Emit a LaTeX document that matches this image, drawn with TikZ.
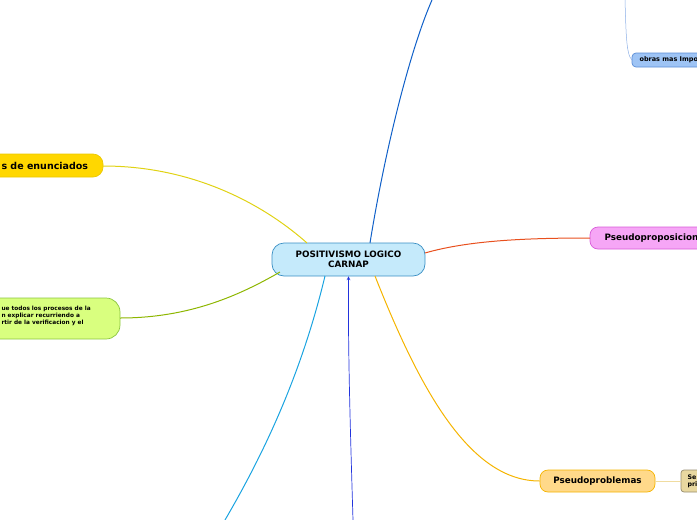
\documentclass[tikz,border=0pt]{standalone}
\usepackage{fontspec}
\setmainfont{DejaVu Sans}
\begin{document}
\begin{tikzpicture}[x=1pt,y=-1pt,
  box/.style={draw,rounded corners=8pt,line width=0.7pt,font=\bfseries,inner sep=0pt},
  conn/.style={line width=1pt}]
\useasboundingbox (0,0) rectangle (697,520);
\clip (0,0) rectangle (697,520);
% center
\node[box,fill={rgb,255:red,197;green,234;blue,251},draw={rgb,255:red,58;green,143;blue,196},minimum width=153pt,minimum height=33pt,rounded corners=12pt,align=center,font=\bfseries\fontsize{8.8}{10}\selectfont] (c) at (348.5,259.5) {POSITIVISMO LOGICO\\CARNAP};
% yellow
\node[box,fill={rgb,255:red,255;green,215;blue,0},draw={rgb,255:red,235;green,200;blue,0},minimum width=133pt,minimum height=23pt,rounded corners=10pt] (y) at (36.5,165.5) {};
\node[anchor=west,font=\bfseries\fontsize{9.5}{10}\selectfont] at (-2,165.5) {s de enunciados};
\draw[conn,draw={rgb,255:red,224;green,210;blue,20}] (103,166) .. controls (200,166) and (270,210) .. (307,243);
% green
\node[box,fill={rgb,255:red,217;green,255;blue,127},draw={rgb,255:red,140;green,198;blue,63},minimum width=160pt,minimum height=41pt,rounded corners=14pt] (g) at (40,318.5) {};
\node[anchor=west,align=left,font=\bfseries\fontsize{5.8}{6.8}\selectfont] at (-2,316) {ue todos los procesos de la\\n explicar recurriendo a\\rtir de la verificacion y el};
\draw[conn,draw={rgb,255:red,141;green,182;blue,0}] (120,318) .. controls (190,318) and (240,295) .. (280,272);
% pink
\node[box,fill={rgb,255:red,246;green,166;blue,246},draw={rgb,255:red,216;green,91;blue,216},minimum width=140pt,minimum height=22pt] (p) at (660,238) {};
\node[anchor=west,font=\bfseries\fontsize{8.8}{10}\selectfont] at (601,238) {Pseudoproposicion};
\draw[conn,draw={rgb,255:red,232;green,80;blue,30}] (425,253) .. controls (470,240) and (530,238) .. (590,238);
% pseudoproblemas
\node[box,fill={rgb,255:red,255;green,217;blue,138},draw={rgb,255:red,245;green,180;blue,0},minimum width=115pt,minimum height=22pt,font=\bfseries\fontsize{8.8}{10}\selectfont] (pp) at (597.5,481) {Pseudoproblemas};
\draw[conn,draw={rgb,255:red,245;green,180;blue,0}] (375,276) .. controls (420,390) and (470,481) .. (pp.west);
\node[box,rounded corners=3pt,fill={rgb,255:red,232;green,216;blue,160},draw={rgb,255:red,150;green,140;blue,110},minimum width=40pt,minimum height=22pt] (s) at (701,481) {};
\node[anchor=west,align=left,font=\bfseries\fontsize{6.3}{7.3}\selectfont] at (684,481) {Se\\pri};
\draw[line width=0.6pt,draw={rgb,255:red,240;green,220;blue,160}] (pp.east) -- (s.west);
% dark blue up
\draw[conn,draw={rgb,255:red,16;green,96;blue,200}] (370,243) .. controls (385,150) and (410,50) .. (432,0);
% obras
\node[box,rounded corners=4pt,fill={rgb,255:red,158;green,196;blue,245},draw={rgb,255:red,91;green,141;blue,214},minimum width=80pt,minimum height=14pt] (o) at (672,60) {};
\node[anchor=west,font=\bfseries\fontsize{6.5}{7}\selectfont] at (636,60) {obras mas Impor};
\draw[line width=0.5pt,draw={rgb,255:red,140;green,175;blue,230}] (625,0) .. controls (626,30) and (626,55) .. (632,60);
% cyan
\draw[conn,draw={rgb,255:red,26;green,163;blue,224}] (325,276) .. controls (300,380) and (260,460) .. (225,520);
% blue arrow
\coordinate (b) at (353,520);
\draw[line width=0.7pt,draw={rgb,255:red,34;green,51;blue,221},-stealth] (b) .. controls (350,420) and (348,350) .. (c.south);
\end{tikzpicture}
\end{document}
